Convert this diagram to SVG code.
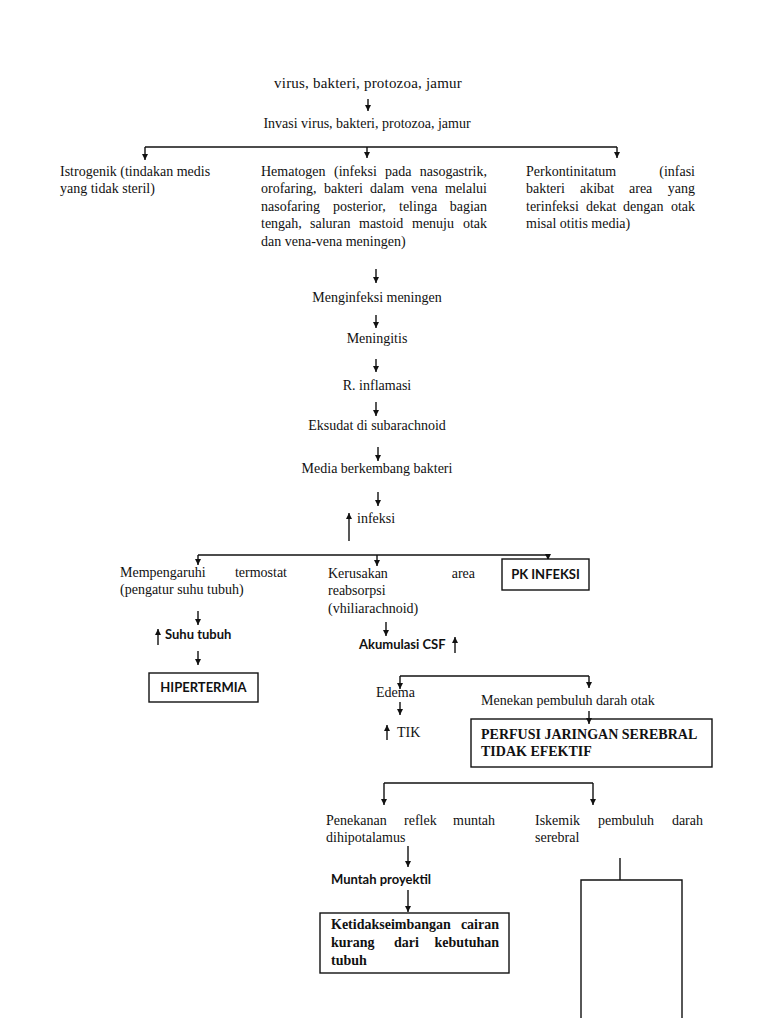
<svg xmlns="http://www.w3.org/2000/svg" width="768" height="1024" viewBox="0 0 768 1024">
<style>
.t{font-family:"Liberation Serif","Times New Roman",serif;font-size:14px;fill:#111}
.c{text-anchor:middle}
.e{text-anchor:end}
.tb{font-family:"Liberation Serif","Times New Roman",serif;font-size:14px;font-weight:bold;fill:#111}
.s{font-family:Lato,"Open Sans",sans-serif;font-size:13px;font-weight:bold;fill:#111}
.ln{stroke:#111;stroke-width:1.4;fill:none}
.ar{stroke:#111;stroke-width:1.4;fill:none;marker-end:url(#ah)}
.box{stroke:#111;stroke-width:1.4;fill:#fff}
</style>
<defs>
<marker id="ah" viewBox="0 0 6 6" refX="6" refY="3" markerWidth="6" markerHeight="6" markerUnits="userSpaceOnUse" orient="auto">
<path d="M0,0 L6,3 L0,6 z" fill="#111"/>
</marker>
</defs>
<rect width="768" height="1024" fill="#fff"/>

<g id="connectors">
<line class="ar" x1="368" y1="99" x2="368" y2="111"/>
<line class="ln" x1="145" y1="147" x2="617" y2="147"/>
<line class="ar" x1="145" y1="147" x2="145" y2="160"/>
<line class="ar" x1="367" y1="147" x2="367" y2="158"/>
<line class="ar" x1="617" y1="147" x2="617" y2="158"/>
<line class="ar" x1="376" y1="269" x2="376" y2="283"/>
<line class="ar" x1="376" y1="315" x2="376" y2="328"/>
<line class="ar" x1="376" y1="359" x2="376" y2="372"/>
<line class="ar" x1="376" y1="402" x2="376" y2="416"/>
<line class="ar" x1="378" y1="447" x2="378" y2="461"/>
<line class="ar" x1="378" y1="492" x2="378" y2="506"/>
<line class="ln" x1="198" y1="555" x2="548" y2="555"/>
<line class="ar" x1="198" y1="555" x2="198" y2="565"/>
<line class="ar" x1="377" y1="555" x2="377" y2="566"/>
<line class="ar" x1="548" y1="555" x2="548" y2="560"/>
<line class="ar" x1="198" y1="611" x2="198" y2="625"/>
<line class="ar" x1="198" y1="651" x2="198" y2="665"/>
<line class="ar" x1="386" y1="622" x2="386" y2="636"/>
<line class="ln" x1="400" y1="676" x2="589" y2="676"/>
<line class="ar" x1="400" y1="676" x2="400" y2="689"/>
<line class="ar" x1="589" y1="676" x2="589" y2="688"/>
<line class="ar" x1="400" y1="702" x2="400" y2="715"/>
<line class="ln" x1="384" y1="783" x2="593" y2="783"/>
<line class="ar" x1="384" y1="783" x2="384" y2="805"/>
<line class="ar" x1="593" y1="783" x2="593" y2="805"/>
<line class="ar" x1="408" y1="846" x2="408" y2="867"/>
<line class="ar" x1="408" y1="890" x2="408" y2="912"/>
<line class="ln" x1="620" y1="858" x2="620" y2="880"/>
<path class="ln" d="M581,1018 V880 H682 V1018"/>
</g>

<g id="n-virus"><text class="t c" x="368" y="88" style="font-size:15px;letter-spacing:0.2px">virus, bakteri, protozoa, jamur</text></g>
<g id="n-invasi"><text class="t c" x="367" y="128">Invasi virus, bakteri, protozoa, jamur</text></g>

<g id="n-istrogenik">
<text class="t" x="60" y="176">Istrogenik (tindakan medis</text>
<text class="t" x="60" y="193">yang tidak steril)</text>
</g>

<g id="n-hematogen">
<text class="t" y="176"><tspan x="261">Hematogen</tspan><tspan x="334">(infeksi</tspan><tspan x="385">pada</tspan></text>
<text class="t e" x="487" y="176">nasogastrik,</text>
<text class="t" y="193"><tspan x="261">orofaring,</tspan><tspan x="324">bakteri</tspan><tspan x="370">dalam</tspan><tspan x="411">vena</tspan></text>
<text class="t e" x="487" y="193">melalui</text>
<text class="t" y="211"><tspan x="261">nasofaring</tspan><tspan x="333">posterior,</tspan><tspan x="399">telinga</tspan></text>
<text class="t e" x="487" y="211">bagian</text>
<text class="t" y="228"><tspan x="261">tengah,</tspan><tspan x="310">saluran</tspan><tspan x="359">mastoid</tspan><tspan x="412">menuju</tspan></text>
<text class="t e" x="487" y="228">otak</text>
<text class="t" x="261" y="246">dan vena-vena meningen)</text>
</g>

<g id="n-perkontinitatum">
<text class="t" x="526" y="176">Perkontinitatum</text>
<text class="t e" x="695" y="176">(infasi</text>
<text class="t" y="193"><tspan x="526">bakteri</tspan><tspan x="580">akibat</tspan><tspan x="629">area</tspan></text>
<text class="t e" x="695" y="193">yang</text>
<text class="t" y="211"><tspan x="526">terinfeksi</tspan><tspan x="586">dekat</tspan><tspan x="623">dengan</tspan></text>
<text class="t e" x="695" y="211">otak</text>
<text class="t" x="526" y="228">misal otitis media)</text>
</g>

<g id="n-menginfeksi"><text class="t c" x="377" y="302">Menginfeksi meningen</text></g>
<g id="n-meningitis"><text class="t c" x="377" y="343">Meningitis</text></g>
<g id="n-inflamasi"><text class="t c" x="377" y="390">R. inflamasi</text></g>
<g id="n-eksudat"><text class="t c" x="377" y="430">Eksudat di subarachnoid</text></g>
<g id="n-media"><text class="t c" x="377" y="473">Media berkembang bakteri</text></g>
<g id="n-infeksi">
<line class="ar" x1="349" y1="541" x2="349" y2="513"/>
<text class="t" x="357" y="523">infeksi</text>
</g>

<g id="n-termostat">
<text class="t" x="120" y="577">Mempengaruhi</text>
<text class="t e" x="287" y="577">termostat</text>
<text class="t" x="120" y="594">(pengatur suhu tubuh)</text>
</g>
<g id="n-suhu">
<line class="ar" x1="158" y1="645" x2="158" y2="629"/>
<text class="s" x="165" y="639">Suhu tubuh</text>
</g>
<g id="n-hipertermia">
<rect class="box" x="149" y="673" width="109" height="29"/>
<text class="s c" x="203.5" y="692">HIPERTERMIA</text>
</g>

<g id="n-kerusakan">
<text class="t" x="328" y="578">Kerusakan</text>
<text class="t e" x="475" y="578">area</text>
<text class="t" x="328" y="595">reabsorpsi</text>
<text class="t" x="328" y="613">(vhiliarachnoid)</text>
</g>
<g id="n-akumulasi">
<text class="s" x="359" y="649">Akumulasi CSF</text>
<line class="ar" x1="455" y1="653" x2="455" y2="637"/>
</g>
<g id="n-pk">
<rect class="box" x="502" y="559" width="87" height="31"/>
<text class="s c" x="545.5" y="579">PK INFEKSI</text>
</g>

<g id="n-edema"><text class="t" x="376" y="697">Edema</text></g>
<g id="n-tik">
<line class="ar" x1="387" y1="740" x2="387" y2="725"/>
<text class="t" x="397" y="737">TIK</text>
</g>
<g id="n-menekan"><text class="t" x="481" y="705">Menekan pembuluh darah otak</text></g>
<g id="n-perfusi">
<rect class="box" x="471" y="719" width="241" height="48"/>
<text class="tb" x="481" y="739">PERFUSI JARINGAN SEREBRAL</text>
<text class="tb" x="481" y="756">TIDAK EFEKTIF</text>
</g>
<line class="ar" x1="589" y1="711" x2="589" y2="724"/>

<g id="n-penekanan">
<text class="t" x="326" y="825">Penekanan</text>
<text class="t" x="404" y="825">reflek</text>
<text class="t e" x="495" y="825">muntah</text>
<text class="t" x="326" y="842">dihipotalamus</text>
</g>
<g id="n-iskemik">
<text class="t" x="535" y="825">Iskemik</text>
<text class="t" x="598" y="825">pembuluh</text>
<text class="t e" x="703" y="825">darah</text>
<text class="t" x="535" y="842">serebral</text>
</g>
<g id="n-muntah"><text class="s" x="331" y="884">Muntah proyektil</text></g>
<g id="n-ketidak">
<rect class="box" x="320" y="913" width="189" height="60"/>
<text class="tb" x="331" y="929">Ketidakseimbangan</text>
<text class="tb e" x="499" y="929">cairan</text>
<text class="tb" x="331" y="947">kurang</text>
<text class="tb" x="394" y="947">dari</text>
<text class="tb e" x="499" y="947">kebutuhan</text>
<text class="tb" x="331" y="965">tubuh</text>
</g>
</svg>
